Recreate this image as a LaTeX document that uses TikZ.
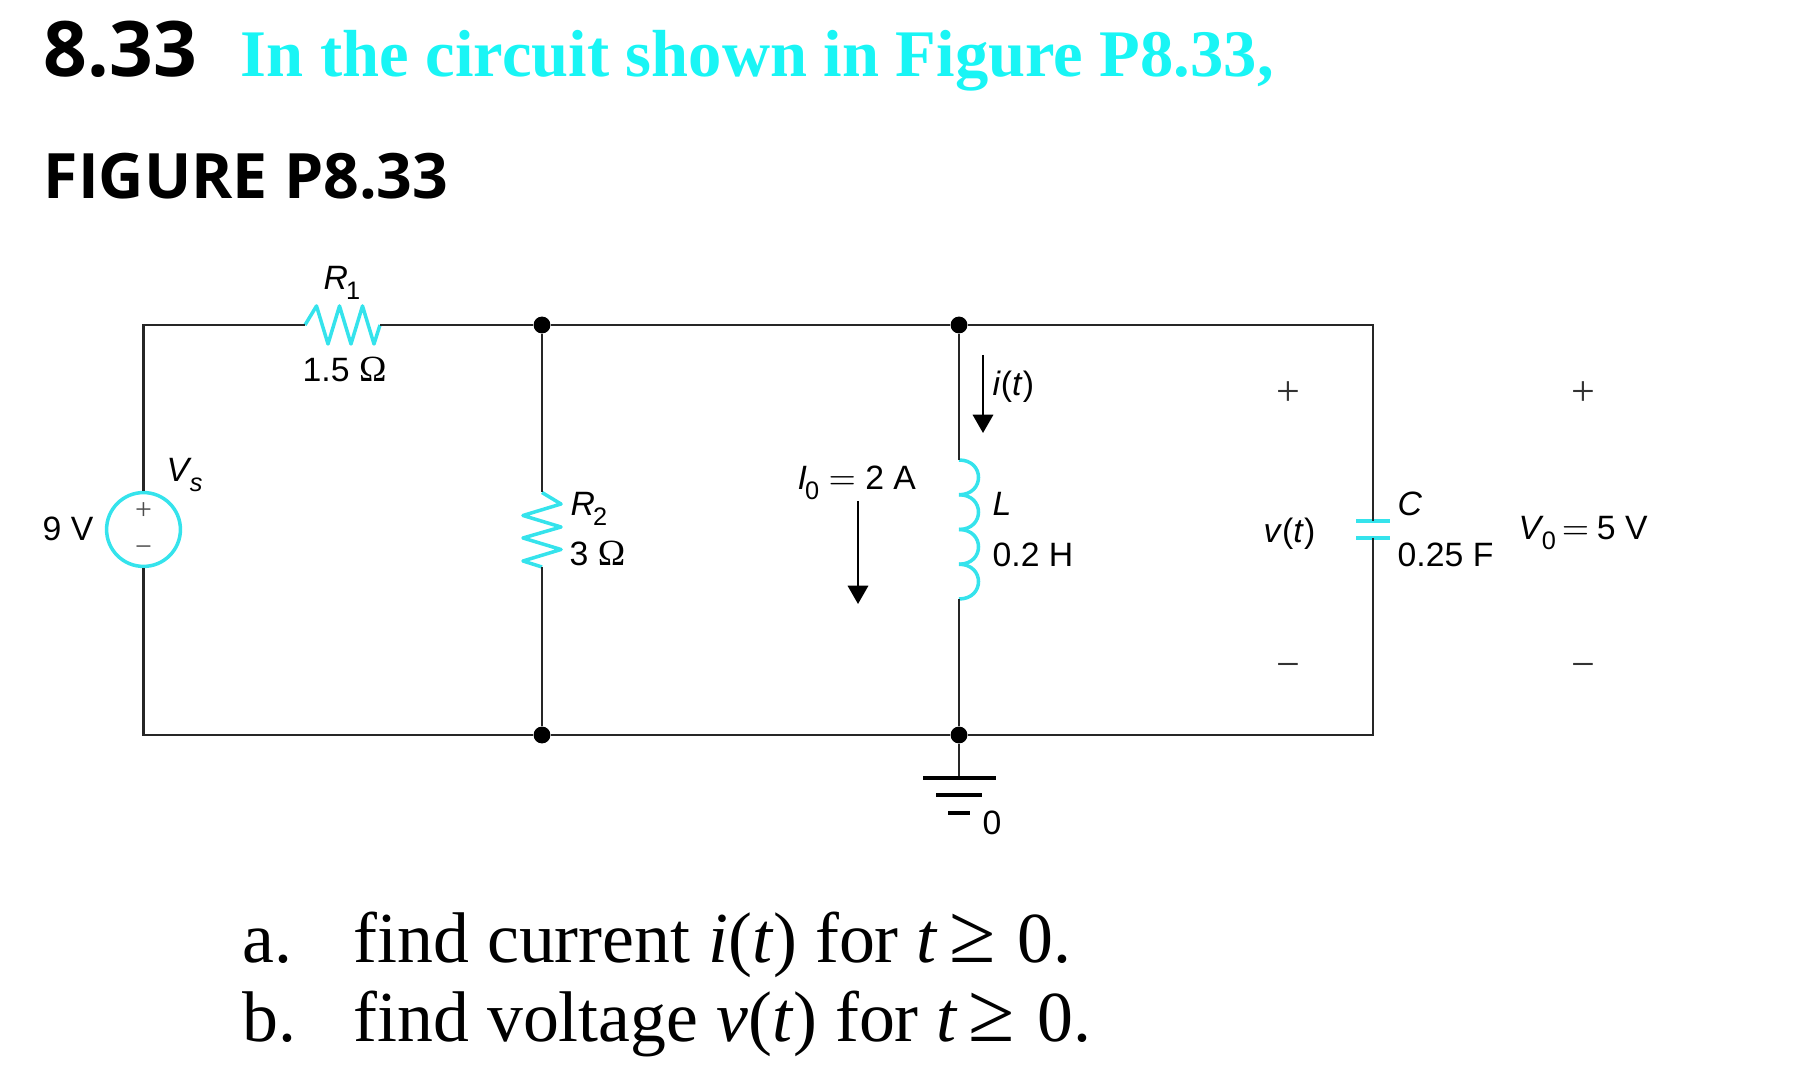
\documentclass[tikz,border=0pt]{standalone}
\usepackage{fontspec}
\setmainfont{Liberation Serif}
\newfontfamily\circuitfont{Liberation Sans}
\newfontfamily\headfont{Open Sans}
\usetikzlibrary{arrows.meta}
\definecolor{partcyan}{HTML}{35E3EC}
\definecolor{titlecyan}{HTML}{19F5F5}
\newcommand{\subtxt}[2]{\textit{#1}\kern-0.06em\raisebox{-0.28em}{\fontsize{7.2}{8}\selectfont #2}}
\newcommand{\bigge}{\kern-0.1em{\fontsize{24}{24}\selectfont ≥}\kern0.06em}

\begin{document}
\begin{tikzpicture}[
    x=0.01cm, y=-0.01cm,
    wire/.style={line width=0.6pt, black!85},
    part/.style={line width=1pt, partcyan, line join=round},
    dot/.style={circle, fill=black, minimum size=4.8pt, inner sep=0pt},
    source/.style={circle, draw=partcyan, line width=1pt, minimum size=21pt, inner sep=0pt},
    label/.style={anchor=base west, inner sep=0pt, font=\circuitfont\fontsize{9.6}{11}\selectfont},
    sign/.style={inner sep=0pt, font=\rmfamily\fontsize{12}{14}\selectfont, black!80},
    smallsign/.style={inner sep=0pt, font=\rmfamily\fontsize{8.5}{10}\selectfont, black!70},
    heading/.style={anchor=base west, inner sep=0pt, font=\headfont\bfseries\fontsize{21.8}{24}\selectfont},
    subheading/.style={anchor=base west, inner sep=0pt, font=\headfont\bfseries\fontsize{17.8}{20}\selectfont},
    question/.style={anchor=base west, inner sep=0pt, font=\fontsize{20.4}{24}\selectfont},
    current/.style={line width=0.6pt, black, -{Triangle[length=5.2pt,width=5.8pt]}}
]
\useasboundingbox (0,0) rectangle (1812,1080);

% Headings
\node (number) at (43,77) [heading] {8.33};
\node (prompt) at (240,77) [anchor=base west, inner sep=0pt, font=\bfseries\fontsize{18.93}{22}\selectfont, text=titlecyan] {In the circuit shown in Figure P8.33,};
\node (figname) at (43,199) [subheading] {FIGURE P8.33};

% Corners and junctions
\coordinate (topleft) at (143.5,325);
\coordinate (botleft) at (143.5,735);
\coordinate (topright) at (1373,325);
\coordinate (botright) at (1373,735);
\node (j1) at (542,325) [dot] {};
\node (j2) at (959,325) [dot] {};
\node (j3) at (542,735) [dot] {};
\node (j4) at (959,735) [dot] {};

% Source
\node (vs) at (143.5,529.5) [source] {};
\node (vsplus) at (143.5,511) [smallsign] {+};
\node (vsminus) at (143.5,551) [smallsign] {−};

% Resistor terminals
\coordinate (r1a) at (305,325);
\coordinate (r1b) at (380,325);
\coordinate (r2a) at (542,492.5);
\coordinate (r2b) at (542,567);
\draw [part] (r1a) -- (316.5,306) -- (328,344) -- (339.5,306) -- (351,344) -- (362.5,306) -- (374,344) -- (r1b);
\draw [part] (r2a) -- (561,504) -- (523,515.5) -- (561,527) -- (523,538) -- (561,549.5) -- (523,561) -- (r2b);

% Inductor
\coordinate (la) at (959,460);
\coordinate (lb) at (959,599);
\foreach \y in {460,494.75,529.5,564.25}
    \draw [part] (959,\y) .. controls (985,\y) and (985,\y+34.75) .. (959,\y+34.75);

% Capacitor
\coordinate (ca) at (1373,521);
\coordinate (cb) at (1373,538);
\draw [part] (1356,521) -- (1390,521);
\draw [part] (1356,538) -- (1390,538);

% Wires
\draw [wire] (vs) -- (topleft) -- (r1a);
\draw [wire] (r1b) -- (j1) -- (j2) -- (topright) -- (ca);
\draw [wire] (cb) -- (botright) -- (j4) -- (j3) -- (botleft) -- (vs);
\draw [wire] (j1) -- (r2a);
\draw [wire] (r2b) -- (j3);
\draw [wire] (j2) -- (la);
\draw [wire] (lb) -- (j4);

% Ground
\coordinate (gnd1) at (959,778);
\draw [wire] (j4) -- (gnd1);
\draw [line width=1pt] (923,778) -- (996,778);
\draw [line width=1pt] (936,795) -- (982,795);
\draw [line width=1pt] (948,813) -- (970,813);
\node (gndlabel) at (982,835) [label] {0};

% Current arrows
\coordinate (ita) at (983,355);
\coordinate (itb) at (983,433);
\coordinate (ioa) at (858,501);
\coordinate (iob) at (858,604);
\draw [current] (ita) -- (itb);
\draw [current] (ioa) -- (iob);

% Labels
\node (r1name) at (323,290) [label] {\subtxt{R}{1}};
\node (r1val) at (302,382) [label] {1.5 {\rmfamily\fontsize{10.5}{11}\selectfont Ω}};
\node (r2name) at (570,516) [label] {\subtxt{R}{2}};
\node (r2val) at (569,566) [label] {3 {\rmfamily\fontsize{10.5}{11}\selectfont Ω}};
\node (vsname) at (166,482) [label] {\subtxt{V}{\textit{s}}};
\node (vsval) at (42,541) [label] {9 V};
\node (itlabel) at (992,396) [label] {\textit{i}(\textit{t})};
\node (iolabel) at (797,490) [label] {\subtxt{I}{0} $=$ 2 A};
\node (lname) at (992,516) [label] {\textit{L}};
\node (lval) at (992,567) [label] {0.2 H};
\node (cname) at (1397,516) [label] {\textit{C}};
\node (cval) at (1397,567) [label] {0.25 F};
\node (vtlabel) at (1263,543) [label] {\textit{v}(\textit{t})};
\node (volabel) at (1518,540) [label] {\subtxt{V}{0}\kern-0.1em\ $=$\kern-0.05em\ 5 V};
\node (vtplus) at (1288,394) [sign] {+};
\node (vtminus) at (1288,671) [sign] {−};
\node (voplus) at (1583,394) [sign] {+};
\node (vominus) at (1583,671) [sign] {−};

% Questions
\node (qa) at (242,962) [question] {a.};
\node (qatext) at (353,962) [question] {find current \textit{i}(\textit{t}) for \textit{t} \bigge{} 0.};
\node (qb) at (242,1041) [question] {b.};
\node (qbtext) at (353,1041) [question] {find voltage \textit{v}(\textit{t}) for \textit{t} \bigge{} 0.};

\end{tikzpicture}
\end{document}
